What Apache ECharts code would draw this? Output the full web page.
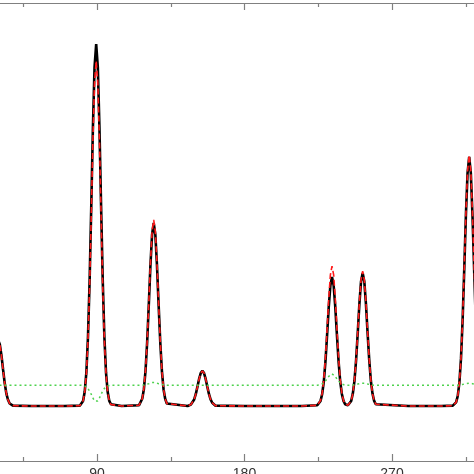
<!DOCTYPE html>
<html>
<head>
<meta charset="utf-8">
<script src="https://cdn.jsdelivr.net/npm/echarts@6/dist/echarts.min.js"></script>
<style>
html,body{margin:0;padding:0;background:#fff;}
#chart{width:474px;height:474px;}
</style>
</head>
<body>
<div id="chart"></div>
<script>
// x positions (degrees)
const angles = [
  0, 10,
  20.7, 21.7, 22.7, 23.7, 24.7, 25.7, 26.7, 27.7, 28.7, 29.7, 30.7, 31.7, 32.7, 33.7, 34.7, 35.7, 36.7, 37.7, 38.7,
  50, 70,
  79.5, 80.5, 81.5, 82.5, 83.5, 84.5, 85.5, 86.5, 87.5, 88.5, 89.5, 90.5, 91.5, 92.5, 93.5, 94.5, 95.5, 96.5, 97.5, 98.5, 99.5,
  105,
  115.6, 116.6, 117.6, 118.6, 119.6, 120.6, 121.6, 122.6, 123.6, 124.6, 125.6, 126.6, 127.6, 128.6, 129.6, 130.6, 131.6, 132.6, 133.6,
  145.3, 146.3, 147.3, 148.3, 149.3, 150.3, 151.3, 152.3, 153.3, 154.3, 155.3, 156.3, 157.3, 158.3, 159.3, 160.3, 161.3, 162.3, 163.3,
  180, 200, 215,
  224.4, 225.4, 226.4, 227.4, 228.4, 229.4, 230.4, 231.4, 232.4, 233.4, 234.4, 235.4, 236.4, 237.4, 238.4, 239.4, 240.4, 241.4, 242.4,
  243.1, 244.1, 245.1, 246.1, 247.1, 248.1, 249.1, 250.1, 251.1, 252.1, 253.1, 254.1, 255.1, 256.1, 257.1, 258.1, 259.1, 260.1, 261.1,
  280, 300,
  307.1, 308.1, 309.1, 310.1, 311.1, 312.1, 313.1, 314.1, 315.1, 316.1, 317.1, 318.1, 319.1, 320.1, 321.1, 322.1, 323.1, 324.1, 325.1, 326.1, 327.1,
  340, 360
];
// observed profile (black)
const observed = [
  0, 0,
  .001,.003,.007,.017,.034,.062,.099,.138,.168,.180,.168,.138,.099,.062,.034,.017,.007,.003,.001,
  0, 0,
  .001,.005,.014,.039,.091,.189,.343,.545,.759,.925,.988,.925,.759,.545,.343,.189,.091,.039,.014,.005,.001,
  0,
  .002,.007,.020,.046,.096,.174,.276,.384,.468,.500,.468,.384,.276,.174,.096,.046,.020,.007,.002,
  0,.001,.004,.009,.018,.033,.053,.074,.090,.096,.090,.074,.053,.033,.018,.009,.004,.001,0,
  0, 0, 0,
  .002,.005,.014,.033,.067,.122,.194,.270,.329,.352,.329,.270,.194,.122,.067,.033,.014,.005,.002,
  .002,.005,.014,.034,.069,.126,.200,.279,.340,.363,.340,.279,.200,.126,.069,.034,.014,.005,.002,
  0, 0,
  .001,.003,.010,.027,.063,.130,.236,.375,.522,.636,.680,.636,.522,.375,.236,.130,.063,.027,.010,.003,.001,
  0, 0
];
// calculated profile (red dashed)
const calculated = [
  0, 0,
  .001,.003,.007,.017,.034,.062,.099,.138,.168,.180,.168,.138,.099,.062,.034,.017,.007,.003,.001,
  0, 0,
  .001,.004,.014,.037,.087,.180,.327,.520,.724,.882,.942,.882,.724,.520,.327,.180,.087,.037,.014,.004,.001,
  0,
  .002,.007,.020,.047,.097,.176,.280,.390,.476,.508,.476,.390,.280,.176,.097,.047,.020,.007,.002,
  0,.001,.004,.009,.018,.033,.053,.074,.090,.096,.090,.074,.053,.033,.018,.009,.004,.001,0,
  0, 0, 0,
  .002,.006,.015,.035,.073,.133,.211,.293,.358,.382,.358,.293,.211,.133,.073,.035,.015,.006,.002,
  .002,.005,.014,.034,.070,.128,.203,.283,.344,.368,.344,.283,.203,.128,.070,.034,.014,.005,.002,
  0, 0,
  .001,.003,.010,.027,.063,.131,.238,.378,.526,.641,.685,.641,.526,.378,.238,.131,.063,.027,.010,.003,.001,
  0, 0
];
// difference curve (green dotted)
const difference = [
  .057,.057,
  .057,.057,.057,.057,.057,.057,.057,.057,.057,.057,.057,.057,.057,.057,.057,.057,.057,.057,.057,
  .057,.057,
  .057,.057,.056,.055,.053,.048,.041,.032,.022,.014,.011,.014,.022,.032,.041,.048,.053,.055,.056,.057,.057,
  .057,
  .057,.057,.057,.057,.059,.060,.061,.063,.064,.065,.064,.063,.061,.060,.059,.057,.057,.057,.057,
  .057,.057,.057,.057,.057,.057,.057,.057,.057,.057,.057,.057,.057,.057,.057,.057,.057,.057,.057,
  .057,.057,.057,
  .057,.057,.058,.060,.063,.068,.074,.081,.086,.088,.086,.081,.074,.068,.063,.060,.058,.057,.057,
  .057,.057,.057,.057,.058,.059,.060,.061,.062,.062,.062,.061,.060,.059,.058,.057,.057,.057,.057,
  .057,.057,
  .057,.057,.057,.057,.057,.058,.059,.060,.061,.062,.062,.062,.061,.060,.059,.058,.057,.057,.057,.057,.057,
  .057,.057
];
const xTickInterval = 90;

const pairs = vals => angles.map((a, i) => [a, vals[i]]);
const axisGray = '#808080';
const baseX = {
  type: 'value', min: 0, max: 360, interval: xTickInterval,
  axisLine: { show: true, onZero: false, lineStyle: { color: axisGray, width: 1.2 } },
  axisTick: { show: true, inside: true, length: 7, lineStyle: { color: axisGray, width: 1.2 } },
  minorTick: { show: true, splitNumber: 2, length: 4, lineStyle: { color: axisGray, width: 1.2 } },
  splitLine: { show: false }, minorSplitLine: { show: false }
};
const chart = echarts.init(document.getElementById('chart'), null, { renderer: 'canvas' });
chart.setOption({
  animation: false,
  backgroundColor: '#fff',
  grid: { left: -50.5, top: 3, width: 590, height: 458, containLabel: false, outerBoundsMode: 'none' },
  xAxis: [
    Object.assign({}, baseX, { position: 'bottom',
      axisLabel: { show: true, margin: 6, fontSize: 14, color: '#333', fontFamily: 'Liberation Sans, Arial, sans-serif' } }),
    Object.assign({}, baseX, { position: 'top', axisLabel: { show: false } })
  ],
  yAxis: { type: 'value', min: -0.15, max: 1.1, show: false },
  series: [
    { type: 'line', data: pairs(observed), showSymbol: false, symbol: 'none',
      lineStyle: { color: '#000', width: 2.6 } },
    { type: 'line', data: pairs(calculated), showSymbol: false, symbol: 'none',
      lineStyle: { color: '#ff1a1a', width: 1.6, type: [6, 3] } },
    { type: 'line', data: pairs(difference), showSymbol: false, symbol: 'none',
      lineStyle: { color: '#4fd24f', width: 1.5, type: [2, 3] } }
  ]
});
</script>
</body>
</html>
